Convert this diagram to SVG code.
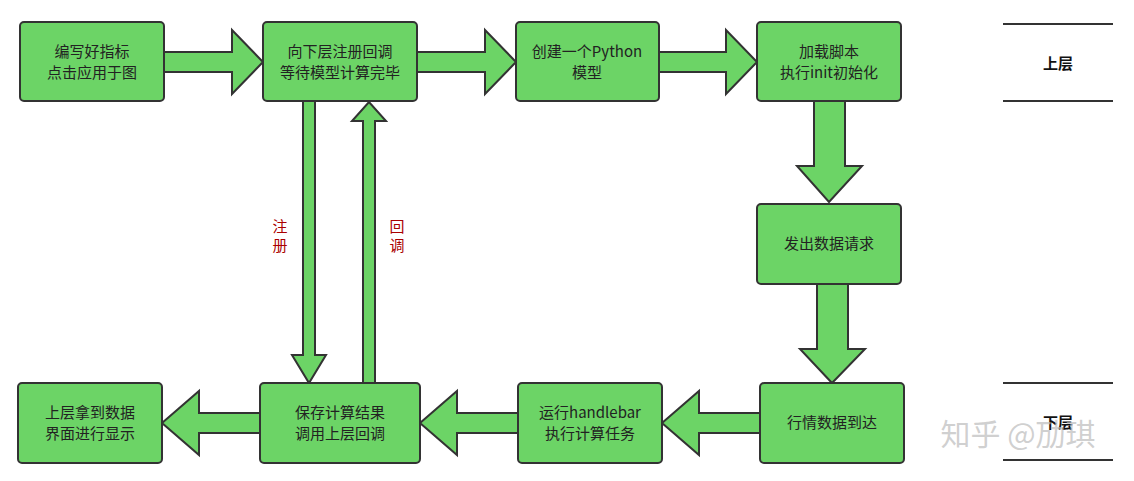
<svg xmlns="http://www.w3.org/2000/svg" width="1134" height="481" viewBox="0 0 1134 481">
<style>
.b{fill:#6cd466;stroke:#333;stroke-width:2}
.t{font-family:"Noto Sans CJK SC","Liberation Sans",sans-serif;font-size:15px;fill:#222;text-anchor:middle}
.a{fill:#6cd466;stroke:#333;stroke-width:2;stroke-linejoin:miter}
.l{font-family:"Noto Sans CJK SC",sans-serif;font-size:15px;fill:#a00;text-anchor:middle}
.r{stroke:#333;stroke-width:2}
.s{font-family:"Noto Sans CJK SC",sans-serif;font-size:15px;font-weight:bold;fill:#111;text-anchor:middle}
</style>
<rect width="1134" height="481" fill="#fff"/>
<g id="connectors">
<polygon class="a" points="164,52 232,52 232,30 263,62 232,94 232,72 164,72"/>
<polygon class="a" points="417,52 485,52 485,30 516,62 485,94 485,72 417,72"/>
<polygon class="a" points="659,52 726,52 726,30 757,62 726,94 726,72 659,72"/>
<polygon class="a" points="814,101 845,101 845,166 862,166 829,202 797,166 814,166"/>
<polygon class="a" points="817,284 848,284 848,349 865,349 832,383 800,349 817,349"/>
<polygon class="a" points="760,413 699,413 699,391 662,423 699,455 699,433 760,433"/>
<polygon class="a" points="518,413 457,413 457,391 420,423 457,455 457,433 518,433"/>
<polygon class="a" points="260,413 199,413 199,391 162,423 199,455 199,433 260,433"/>
<polygon class="a" points="303,101 315,101 315,355 326,355 309,383 292,355 303,355"/>
<polygon class="a" points="363,383 375,383 375,121 386,121 369,102 352,121 363,121"/>
<text class="l" x="280" y="232">注</text><text class="l" x="280" y="251">册</text>
<text class="l" x="397" y="232">回</text><text class="l" x="397" y="251">调</text>
</g>
<g id="n1"><rect class="b" x="20" y="22" width="144" height="79" rx="4"/><text class="t" x="92" y="57">编写好指标</text><text class="t" x="92" y="78">点击应用于图</text></g>
<g id="n2"><rect class="b" x="263" y="22" width="154" height="79" rx="4"/><text class="t" x="340" y="57">向下层注册回调</text><text class="t" x="340" y="78">等待模型计算完毕</text></g>
<g id="n3"><rect class="b" x="516" y="22" width="143" height="79" rx="4"/><text class="t" x="587" y="57">创建一个Python</text><text class="t" x="587" y="78">模型</text></g>
<g id="n4"><rect class="b" x="757" y="22" width="144" height="79" rx="4"/><text class="t" x="829" y="57">加载脚本</text><text class="t" x="829" y="78">执行init初始化</text></g>
<g id="n5"><rect class="b" x="757" y="204" width="144" height="80" rx="4"/><text class="t" x="829" y="249">发出数据请求</text></g>
<g id="n6"><rect class="b" x="760" y="383" width="144" height="80" rx="4"/><text class="t" x="832" y="428">行情数据到达</text></g>
<g id="n7"><rect class="b" x="518" y="383" width="144" height="80" rx="4"/><text class="t" x="590" y="418">运行handlebar</text><text class="t" x="590" y="439">执行计算任务</text></g>
<g id="n8"><rect class="b" x="260" y="383" width="160" height="80" rx="4"/><text class="t" x="340" y="418">保存计算结果</text><text class="t" x="340" y="439">调用上层回调</text></g>
<g id="n9"><rect class="b" x="18" y="383" width="144" height="80" rx="4"/><text class="t" x="90" y="418">上层拿到数据</text><text class="t" x="90" y="439">界面进行显示</text></g>
<g id="layers">
<line class="r" x1="1003" y1="24" x2="1113" y2="24"/><line class="r" x1="1003" y1="101" x2="1113" y2="101"/>
<line class="r" x1="1003" y1="383" x2="1113" y2="383"/><line class="r" x1="1003" y1="460" x2="1113" y2="460"/>
<text class="s" x="1058" y="69">上层</text><text class="s" x="1058" y="428">下层</text>
</g>
<text x="1018" y="445" font-family="Noto Sans CJK SC,sans-serif" font-size="30" fill="#bbb" fill-opacity="0.7" text-anchor="middle">知乎 @劢琪</text>
</svg>
